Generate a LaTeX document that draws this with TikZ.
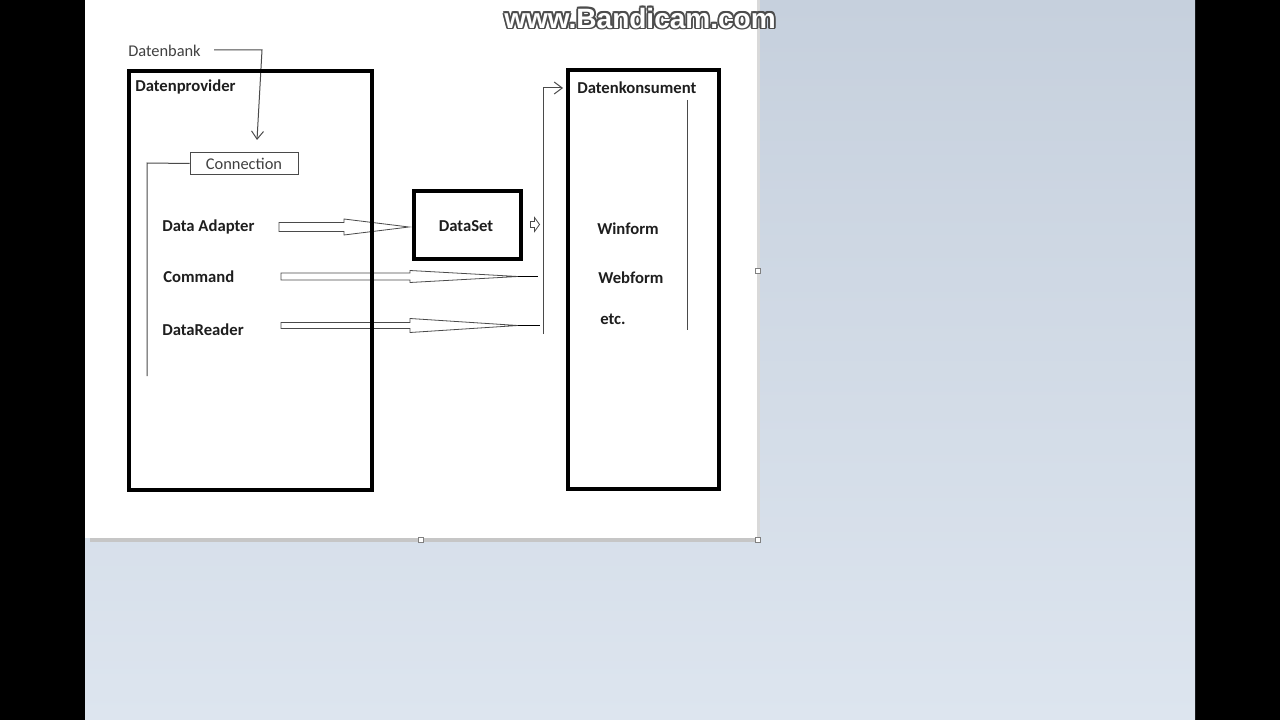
\documentclass[tikz,border=0pt]{standalone}
\usepackage{fontspec}
\setmainfont{Carlito}
\newfontfamily\wmfont{Liberation Sans}
\usetikzlibrary{arrows.meta}
\definecolor{txt}{HTML}{1E1E1E}
\definecolor{ln}{HTML}{4A4A4A}
\definecolor{bgtop}{HTML}{C6D0DD}
\definecolor{bgbot}{HTML}{DDE5EF}
\newcommand\blkarrow[6]{%
  \draw[blk] (#1,{#4-#5}) -- (#2,{#4-#5}) -- (#2,{#4-#6}) -- (#3,#4) -- (#2,{#4+#6}) -- (#2,{#4+#5}) -- (#1,{#4+#5}) -- cycle;}
\begin{document}
\begin{tikzpicture}[x=0.75pt,y=-0.75pt,
  thickbox/.style={draw=black,line width=2.6pt},
  lbl/.style={font=\fontsize{12.5}{14}\selectfont\bfseries,text=txt,inner sep=0pt,anchor=west},
  plain/.style={font=\fontsize{12.3}{14}\selectfont,text=txt!85,inner sep=0pt},
  thin/.style={draw=ln,line width=0.75pt},
  blk/.style={draw=ln,line width=0.6pt,fill=white},
  wmstyle/.style={font=\wmfont\bfseries\fontsize{21}{24}\selectfont,inner sep=0pt},
  handle/.style={draw=gray,fill=white,line width=0.4pt,minimum size=3.5pt,inner sep=0pt}]
\useasboundingbox (0,0) rectangle (1280,720);
% background
\fill[black] (0,0) rectangle (85,720);
\fill[black] (1195,0) rectangle (1280,720);
\shade[top color=bgtop,bottom color=bgbot] (85,0) rectangle (1195,720);
% canvas shadow and canvas
\fill[gray!45] (90,537) rectangle (760,542);
\fill[gray!30] (755,0) rectangle (760,540);
\fill[white] (85,0) rectangle (757,538);
% watermark
\foreach \dx/\dy in {-1.8/0,1.8/0,0/-1.8,0/1.8,-1.3/-1.3,1.3/1.3,-1.3/1.3,1.3/-1.3}{
  \node[wmstyle,text=black!70] at ({640+\dx},{18+\dy}) {www.Bandicam.com};}
\node[wmstyle,text=white] (wm) at (640,18) {www.Bandicam.com};
% labels
\node[plain,anchor=west] (datenbank) at (128,51) {Datenbank};
\node[lbl] (provlbl) at (135,86.5) {Datenprovider};
\node[lbl] (konslbl) at (577,87.5) {Datenkonsument};
\node[draw=ln,line width=0.6pt,minimum width=81pt,minimum height=17pt,inner sep=0pt,plain] (connection) at (244,163.5) {Connection};
\node[lbl] (adapter) at (162,227) {Data Adapter};
\node[lbl] (command) at (163,276.5) {Command};
\node[lbl] (reader) at (162,330) {DataReader};
\node[lbl] (winform) at (597,229) {Winform};
\node[lbl] (webform) at (598,278) {Webform};
\node[lbl] (etc) at (600,319) {etc.};
% Datenbank connector
\coordinate (dbstart) at (214,50);
\coordinate (dbcorner) at (262,50);
\coordinate (dbtip) at (257,140);
\draw[thin,-{Straight Barb[length=6pt,width=9pt]}] (dbstart) -- (dbcorner) -- (dbtip);
% connection line
\coordinate (cc) at (147,163);
\coordinate (cend) at (147,376);
\draw[thin] (connection.west) -- (cc) -- (cend);
% block arrows
\blkarrow{279}{344}{409}{227}{4.5}{8}
\blkarrow{281}{410}{518}{276.5}{3.5}{6}
\blkarrow{281}{410}{518}{325.5}{3}{7}
\coordinate (cmdtip) at (518,276.5);
\coordinate (cmdend) at (538,276.5);
\coordinate (rdtip) at (518,325.5);
\coordinate (rdend) at (540,325.5);
\draw[thin,draw=black] (cmdtip) -- (cmdend);
\draw[thin,draw=black] (rdtip) -- (rdend);
\blkarrow{530.5}{534.5}{539.5}{224.5}{3}{7}
% line to Datenkonsument
\coordinate (vbot) at (543,334);
\coordinate (vtop) at (543,88);
\coordinate (vtip) at (563,88);
\draw[thin,-{Straight Barb[length=6pt,width=9pt]}] (vbot) -- (vtop) -- (vtip);
% boxes
\node[thickbox,minimum width=182pt,minimum height=314pt,inner sep=0pt] (provider) at (250.5,280.5) {};
\node[thickbox,minimum width=80pt,minimum height=51pt,inner sep=0pt] (dsbox) at (467.5,225) {};
\node[lbl,anchor=center] (dataset) at (466,226) {DataSet};
\node[thickbox,minimum width=113pt,minimum height=314pt,inner sep=0pt] (konsument) at (643.5,279.5) {};
% inner line
\coordinate (ktop) at (687,100);
\coordinate (kbot) at (687,330);
\draw[thin] (ktop) -- (kbot);
% handles
\node[handle] (h1) at (421,540) {};
\node[handle] (h2) at (758,540) {};
\node[handle] (h3) at (758,271) {};
\end{tikzpicture}
\end{document}
